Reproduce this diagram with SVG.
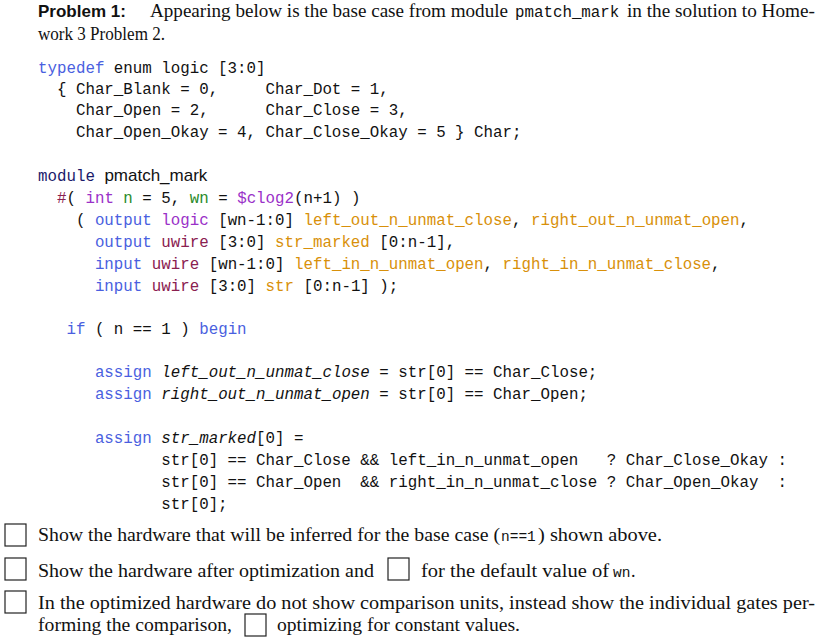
<svg xmlns="http://www.w3.org/2000/svg" width="828" height="638" viewBox="0 0 828 638">
<style>
.m{font-family:"Liberation Mono",monospace;font-size:15.8px;fill:#111;white-space:pre}
.q{font-family:"Liberation Mono",monospace;font-size:14.5px;fill:#111}
.s{font-family:"Liberation Serif",serif;font-size:18px;fill:#111}
.kb{fill:#4a5fe0}.kn{fill:#1a1a6a}.kp{fill:#9a30c8}.kg{fill:#2a8a2a}.ko{fill:#d8900a}.kw{fill:#8a2050}
.i{font-style:italic}
.box{fill:#fff;stroke:#222;stroke-width:1.2}
</style>
<rect width="828" height="638" fill="#fff"/>
<g id="header">
<text x="38" y="17" style="font-family:'Liberation Sans',sans-serif;font-weight:bold;font-size:17px;fill:#111">Problem 1:</text>
<text x="150" y="17" class="s" textLength="358" lengthAdjust="spacingAndGlyphs">Appearing below is the base case from module</text>
<text x="515" y="17" class="m">pmatch_mark</text>
<text x="627" y="17" class="s" textLength="188" lengthAdjust="spacingAndGlyphs">in the solution to Home-</text>
<text x="38" y="40" class="s" textLength="127" lengthAdjust="spacingAndGlyphs">work 3 Problem 2.</text>
</g>
<g id="code">
<text x="38" y="73" class="m"><tspan class="kb">typedef</tspan> enum logic [3:0]</text>
<text x="38" y="94" class="m">  { Char_Blank = 0,     Char_Dot = 1,</text>
<text x="38" y="115" class="m">    Char_Open = 2,      Char_Close = 3,</text>
<text x="38" y="137" class="m">    Char_Open_Okay = 4, Char_Close_Okay = 5 } Char;</text>
<text x="38" y="181" class="m"><tspan class="kn">module</tspan> <tspan style="font-family:'Liberation Sans',sans-serif;font-size:17px">pmatch_mark</tspan></text>
<text x="38" y="203" class="m">  <tspan class="kw">#</tspan>( <tspan class="kp">int</tspan> <tspan class="kg">n</tspan> = 5, <tspan class="kg">wn</tspan> = <tspan class="kp">$clog2</tspan>(n+1) )</text>
<text x="38" y="225" class="m">    ( <tspan class="kb">output</tspan> <tspan class="kp">logic</tspan> [wn-1:0] <tspan class="ko">left_out_n_unmat_close</tspan>, <tspan class="ko">right_out_n_unmat_open</tspan>,</text>
<text x="38" y="247" class="m">      <tspan class="kb">output</tspan> <tspan class="kw">uwire</tspan> [3:0] <tspan class="ko">str_marked</tspan> [0:n-1],</text>
<text x="38" y="269" class="m">      <tspan class="kb">input</tspan> <tspan class="kw">uwire</tspan> [wn-1:0] <tspan class="ko">left_in_n_unmat_open</tspan>, <tspan class="ko">right_in_n_unmat_close</tspan>,</text>
<text x="38" y="291" class="m">      <tspan class="kb">input</tspan> <tspan class="kw">uwire</tspan> [3:0] <tspan class="ko">str</tspan> [0:n-1] );</text>
<text x="38" y="334" class="m">   <tspan class="kb">if</tspan> ( n == 1 ) <tspan class="kb">begin</tspan></text>
<text x="38" y="377" class="m">      <tspan class="kb">assign</tspan> <tspan class="i">left_out_n_unmat_close</tspan> = str[0] == Char_Close;</text>
<text x="38" y="399" class="m">      <tspan class="kb">assign</tspan> <tspan class="i">right_out_n_unmat_open</tspan> = str[0] == Char_Open;</text>
<text x="38" y="443" class="m">      <tspan class="kb">assign</tspan> <tspan class="i">str_marked</tspan>[0] =</text>
<text x="38" y="465" class="m">             str[0] == Char_Close &amp;&amp; left_in_n_unmat_open   ? Char_Close_Okay :</text>
<text x="38" y="487" class="m">             str[0] == Char_Open  &amp;&amp; right_in_n_unmat_close ? Char_Open_Okay  :</text>
<text x="38" y="509" class="m">             str[0];</text>
</g>
<g id="questions">
<rect class="box" x="5" y="524" width="21" height="22"/>
<text x="38" y="541" class="s" textLength="462" lengthAdjust="spacingAndGlyphs">Show the hardware that will be inferred for the base case (</text>
<text x="501" y="541" class="q">n==1</text>
<text x="538" y="541" class="s" textLength="124" lengthAdjust="spacingAndGlyphs">) shown above.</text>
<rect class="box" x="5" y="558" width="21" height="22"/>
<text x="38" y="577" class="s" textLength="336" lengthAdjust="spacingAndGlyphs">Show the hardware after optimization and</text>
<rect class="box" x="388" y="558" width="21" height="22"/>
<text x="421" y="577" class="s" textLength="188" lengthAdjust="spacingAndGlyphs">for the default value of</text>
<text x="613" y="577" class="q">wn</text>
<text x="631" y="577" class="s">.</text>
<rect class="box" x="5" y="591" width="21" height="22"/>
<text x="38" y="609" class="s" textLength="777" lengthAdjust="spacingAndGlyphs">In the optimized hardware do not show comparison units, instead show the individual gates per-</text>
<text x="38" y="631" class="s" textLength="194" lengthAdjust="spacingAndGlyphs">forming the comparison,</text>
<rect class="box" x="245" y="614" width="21" height="22"/>
<text x="277" y="631" class="s" textLength="243" lengthAdjust="spacingAndGlyphs">optimizing for constant values.</text>
</g>
</svg>
